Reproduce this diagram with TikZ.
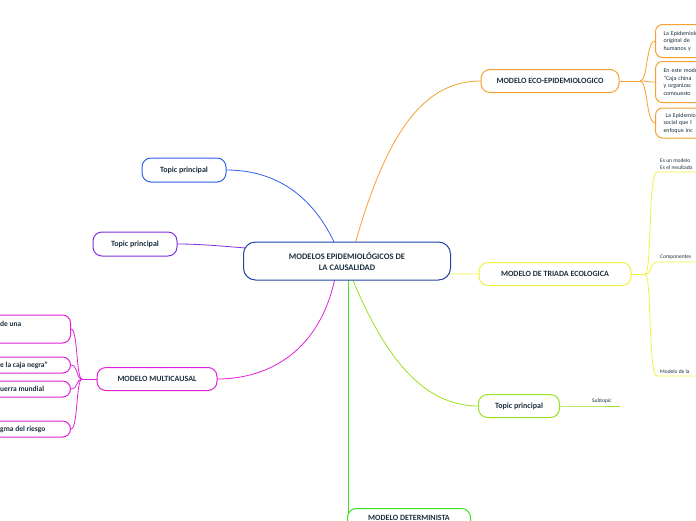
\documentclass[tikz,border=0pt]{standalone}
\usepackage{fontspec}
\setmainfont{Carlito}
\definecolor{tx}{HTML}{1B3040}
\definecolor{cblue}{HTML}{3060F0}
\definecolor{cpur}{HTML}{8030E0}
\definecolor{cmag}{HTML}{E020D8}
\definecolor{cora}{HTML}{F5A030}
\definecolor{cyel}{HTML}{F2F040}
\definecolor{clime}{HTML}{98E020}
\definecolor{cgrn}{HTML}{40E020}
\begin{document}
\begin{tikzpicture}[x=1pt,y=-1pt,
  topic/.style={draw=#1,line width=1pt,rounded corners=9pt,fill=white,text=tx,font=\bfseries\fontsize{8}{10}\selectfont,inner sep=0pt,align=center},
  lf/.style={draw=#1,line width=1pt,rounded corners=7pt,fill=white,text=tx,font=\fontsize{6}{7.5}\selectfont,inner sep=0pt,align=left},
  lb/.style={draw=cmag,line width=1pt,rounded corners=8pt,fill=white,text=tx,font=\bfseries\fontsize{7.5}{9}\selectfont,inner sep=0pt,minimum width=120pt,anchor=east,align=right},
  sm/.style={text=tx,font=\fontsize{5.5}{7}\selectfont,inner sep=0pt,align=left,anchor=south west},
  con/.style={draw=#1,line width=0.8pt}]
\useasboundingbox (0,0) rectangle (696,520);
\clip (0,0) rectangle (696,520);
% connectors first
\draw[con=cblue] (335,244) .. controls (310,190) and (270,170) .. (226,170);
\draw[con=cpur] (246,248) .. controls (220,246) and (200,244) .. (177,244);
\draw[con=cmag] (335,278) .. controls (320,350) and (270,379) .. (217,379);
\draw[con=cora] (355,244) .. controls (390,120) and (430,81) .. (481,81);
\draw[con=cyel] (360,278) .. controls (400,274) and (440,274) .. (479,274);
\draw[con=clime] (352,278) .. controls (390,370) and (430,406) .. (479,406);
\draw[con=cgrn] (348,280) -- (348,515);
% main
\node[draw=cblue!70!black,line width=1pt,rounded corners=12pt,fill=white,text=tx,font=\bfseries\fontsize{8.5}{11}\selectfont,align=center,minimum width=207pt,minimum height=38pt] (m) at (347,261) {MODELOS EPIDEMIOLÓGICOS DE\\LA CAUSALIDAD};
\node[topic=cblue,minimum width=84pt,minimum height=24pt] (t1) at (184,170) {Topic principal};
\node[topic=cpur,minimum width=84pt,minimum height=24pt] (t2) at (135,244) {Topic principal};
\node[topic=cmag,minimum width=120pt,minimum height=23pt] (mm) at (157,379) {MODELO MULTICAUSAL};
\node[topic=cora,minimum width=138pt,minimum height=23pt] (eco) at (550,81) {MODELO ECO-EPIDEMIOLOGICO};
\node[topic=cyel,minimum width=152pt,minimum height=23pt] (tri) at (555,274) {MODELO DE TRIADA ECOLOGICA};
\node[topic=clime,minimum width=81pt,minimum height=23pt] (t3) at (519,406) {Topic principal};
\node[topic=cgrn,minimum width=123pt,minimum height=23pt,anchor=north west] (det) at (347,508) {\raisebox{5pt}{MODELO DETERMINISTA}};
% multicausal children
\coordinate (bm) at (82,379);
\draw[con=cmag] (mm.west) -- (bm);
\foreach \y in {329,365,389,429}{\draw[con=cmag] (bm) .. controls (76,379) and (78,\y) .. (71,\y);}
\node[lb,minimum height=28pt] (a1) at (71,329) {};
\node[lb,minimum height=16pt] (a2) at (71,365) {};
\node[lb,minimum height=16pt] (a3) at (71,389) {};
\node[lb,minimum height=16pt] (a4) at (71,429) {};
\node[text=tx,font=\bfseries\fontsize{7.5}{9}\selectfont,anchor=west,inner sep=0pt] (a1t) at (0,324) {de una};
\node[text=tx,font=\bfseries\fontsize{7.5}{9}\selectfont,anchor=west,inner sep=0pt] (a2t) at (0,365) {e la caja negra”};
\node[text=tx,font=\bfseries\fontsize{7.5}{9}\selectfont,anchor=west,inner sep=0pt] (a3t) at (0,389) {uerra mundial};
\node[text=tx,font=\bfseries\fontsize{7.5}{9}\selectfont,anchor=west,inner sep=0pt] (a4t) at (0,429) {gma del riesgo};
% eco children
\coordinate (be) at (640,81);
\draw[con=cora] (eco.east) -- (be);
\foreach \y in {41,82,123}{\draw[con=cora] (be) .. controls (648,81) and (646,\y) .. (655,\y);}
\node[lf=cora,minimum height=33pt,anchor=west,text width=60pt,align=left] (e1) at (655,41) {\hspace*{8pt}La Epidemiología\\\hspace*{8pt}original de\\\hspace*{8pt}humanos y};
\node[lf=cora,minimum height=41pt,anchor=west,text width=60pt] (e2) at (655,82) {\hspace*{8pt}En este modelo\\\hspace*{8pt}“Caja china\\\hspace*{8pt}y organizac\\\hspace*{8pt}comouesto};
\node[lf=cora,minimum height=30pt,anchor=west,text width=60pt] (e3) at (655,123) {\hspace*{10pt}La Epidemiología\\\hspace*{8pt}social que l\\\hspace*{8pt}enfoque inc};
% triada children
\coordinate (bt) at (645,274);
\draw[con=cyel] (tri.east) -- (bt);
\draw[con=cyel] (bt) .. controls (652,274) and (648,172) .. (657,172) -- (696,172);
\draw[con=cyel] (bt) .. controls (652,274) and (650,262) .. (657,262) -- (696,262);
\draw[con=cyel] (bt) .. controls (652,274) and (648,376) .. (657,376) -- (696,376);
\node[sm] (y1) at (660,170) {Es un modelo\\Es el resultado};
\node[sm] (y2) at (660,260) {Componentes};
\node[sm] (y3) at (660,374) {Modelo de la};
% topic 3 child
\coordinate (s1) at (620,406);
\draw[con=clime] (t3.east) -- (590,406) -- (s1);
\node[sm] (sub) at (592,404) {Subtopic};
\end{tikzpicture}
\end{document}
